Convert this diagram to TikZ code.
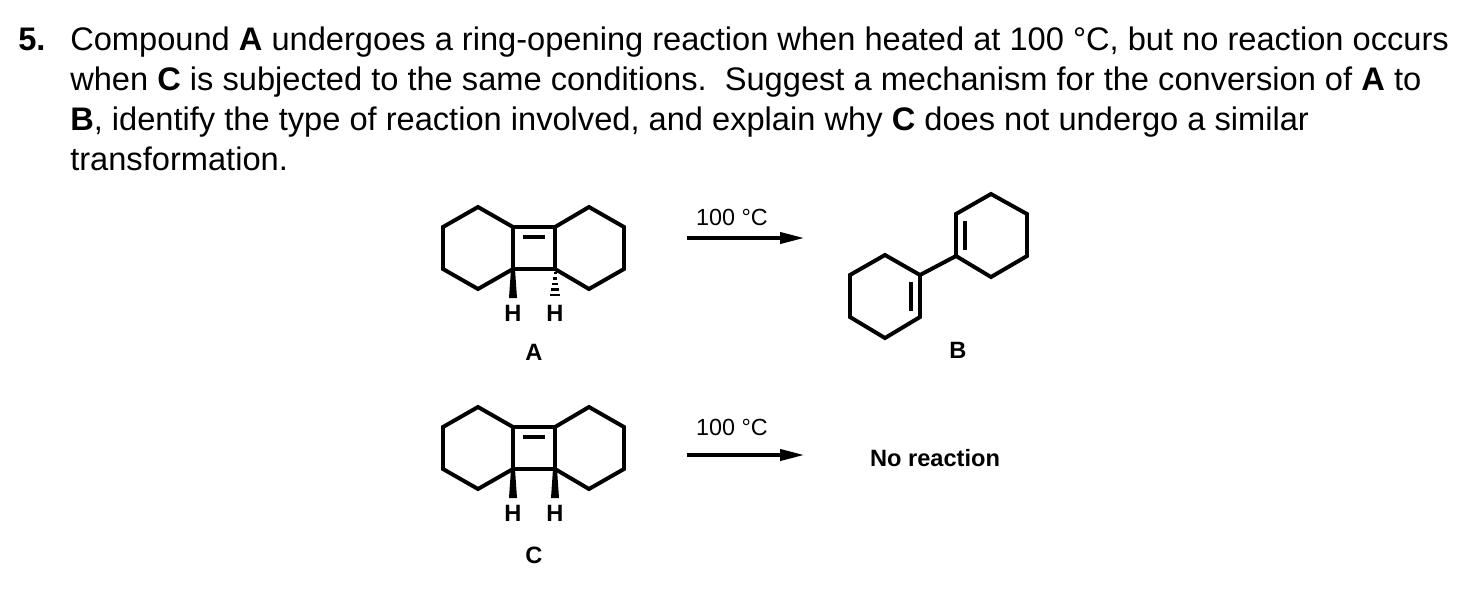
\documentclass[tikz,border=0pt]{standalone}
\usepackage{fontspec}
\setmainfont{Liberation Sans}
\usetikzlibrary{arrows.meta, positioning, calc}

\tikzset{
  bond/.style={line width=2.8pt, line join=miter, line cap=butt},
  qtext/.style={anchor=base west, inner sep=0pt, font=\fontsize{23.2}{28}\selectfont},
  cond/.style={inner sep=0pt, font=\fontsize{16.6}{20}\selectfont},
  hatom/.style={inner sep=0pt, font=\fontsize{16.8}{20}\selectfont\bfseries},
  cmpd/.style={inner sep=0pt, font=\fontsize{16.8}{20}\selectfont\bfseries},
  rxn/.style={line width=2.2pt, -{Triangle[length=17pt, width=8pt]}},
}

% tricyclic cyclobutene skeleton, top of left ring at y offset #1
\newcommand{\tricycle}[1]{
  \draw[bond] (513,{#1+20}) -- (478,{#1}) -- (443,{#1+20}) -- (443,{#1+62}) -- (478,{#1+82}) -- (513,{#1+62}) -- cycle;
  \draw[bond] (513,{#1+20}) -- (555,{#1+20}) -- (555,{#1+62}) -- (513,{#1+62});
  \draw[bond] (555,{#1+20}) -- (589,{#1}) -- (624,{#1+20}) -- (624,{#1+62}) -- (589,{#1+82}) -- (555,{#1+62});
  \draw[bond] (523,{#1+30}) -- (545,{#1+30});
  % wedge down on the left bridgehead
  \fill (511,{#1+62}) -- (515,{#1+62}) -- (517,{#1+91}) -- (509,{#1+91}) -- cycle;
}

\begin{document}
\begin{tikzpicture}[x=0.025cm, y=-0.025cm]
  \useasboundingbox (0,0) rectangle (1461,595);

  % question text
  \node[qtext] (num) at (18,50) {\textbf{5.}};
  \node[qtext] (l1) at (70,50) {Compound \textbf{A} undergoes a ring-opening reaction when heated at 100 °C, but no reaction occurs};
  \node[qtext] (l2) at (70,90) {when \textbf{C} is subjected to the same conditions.\ \ Suggest a mechanism for the conversion of \textbf{A} to};
  \node[qtext] (l3) at (70,130) {\textbf{B}, identify the type of reaction involved, and explain why \textbf{C} does not undergo a similar};
  \node[qtext] (l4) at (70,170) {transformation.};

  % compound A
  \tricycle{207}
  \foreach \k in {0,...,4}
    \draw[line width=2pt] ({555-1.5-\k*0.8},{273+\k*5.5}) -- ({555+1.5+\k*0.8},{273+\k*5.5});
  \node[hatom] (hA1) at (513,313) {H};
  \node[hatom] (hA2) at (555,313) {H};
  \node[cmpd] (A) at (534,352) {A};

  % compound B
  \draw[bond] (920,275) -- (885,255) -- (850,275) -- (850,317) -- (885,338) -- (920,317) -- cycle;
  \draw[bond] (911,282) -- (911,311);
  \draw[bond] (920,275) -- (956,256);
  \draw[bond] (956,256) -- (956,214) -- (991,194) -- (1027,214) -- (1027,256) -- (991,277) -- cycle;
  \draw[bond] (965,221) -- (965,250);
  \node[cmpd] (B) at (958,350) {B};

  % compound C
  \tricycle{407}
  \fill (553,469) -- (557,469) -- (559,498) -- (551,498) -- cycle;
  \node[hatom] (hC1) at (513,513) {H};
  \node[hatom] (hC2) at (555,513) {H};
  \node[cmpd] (C) at (534,555) {C};

  % reaction arrows
  \coordinate (a1s) at (687,238);
  \coordinate (a1e) at (804,238);
  \draw[rxn] (a1s) -- (a1e);
  \node[cond] (t1) at (732,217) {100 °C};
  \coordinate (a2s) at (687,455);
  \coordinate (a2e) at (804,455);
  \draw[rxn] (a2s) -- (a2e);
  \node[cond] (t2) at (732,427) {100 °C};
  \node[cmpd] (nr) at (935,458) {No reaction};
\end{tikzpicture}
\end{document}
